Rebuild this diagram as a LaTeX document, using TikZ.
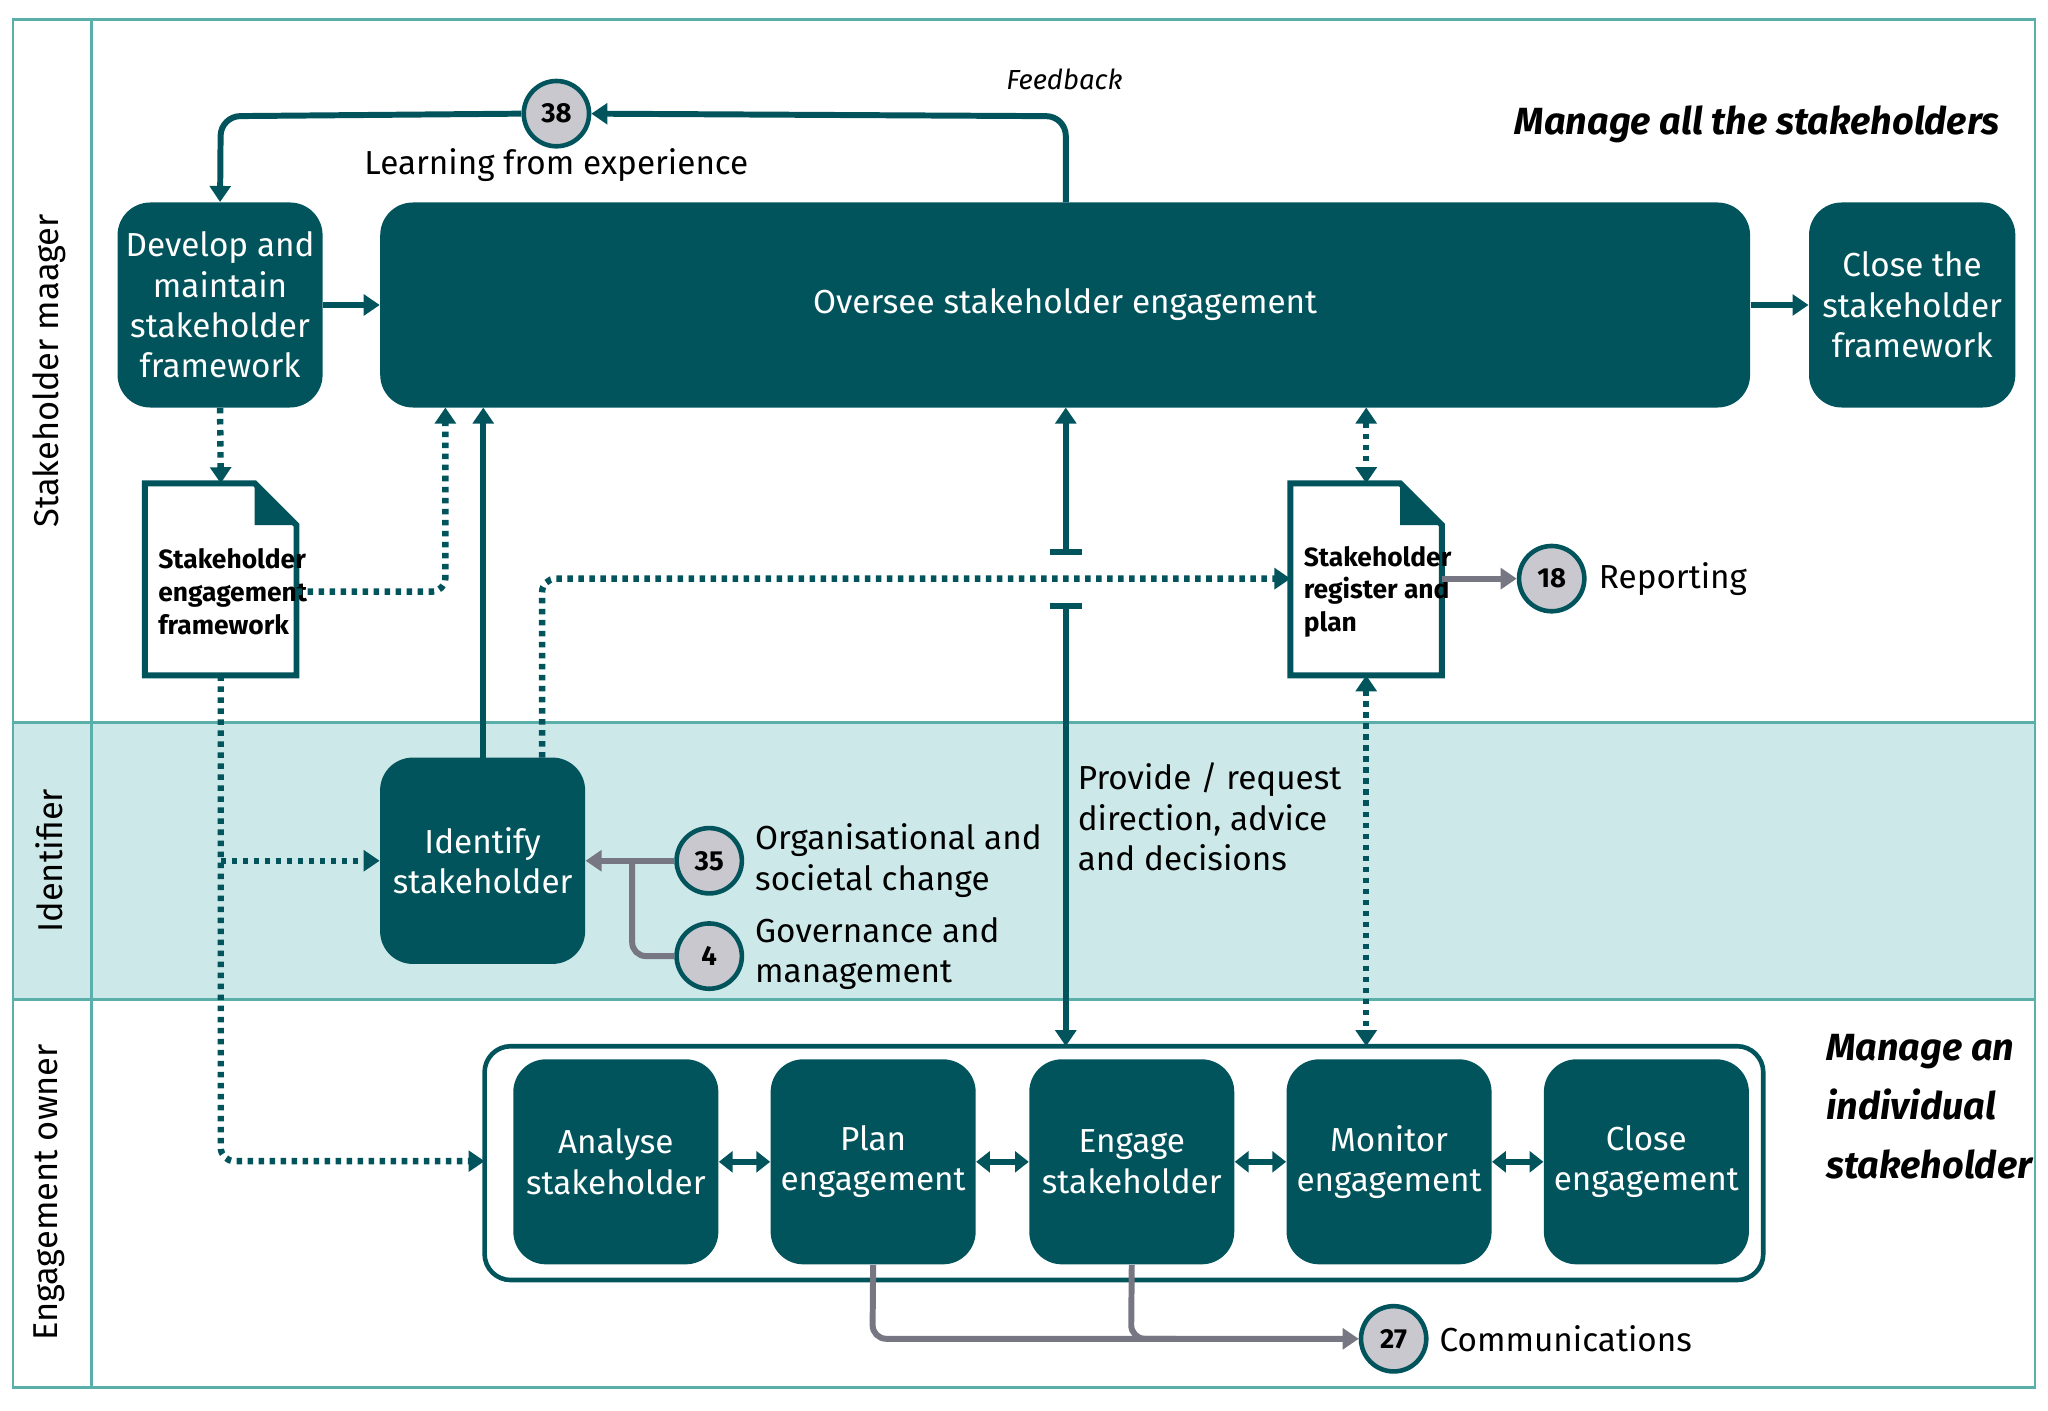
\documentclass[tikz,border=0pt]{standalone}
\usepackage{fontspec}
\setmainfont{Fira Sans}
\usetikzlibrary{arrows.meta}
\definecolor{dk}{HTML}{02545C}
\definecolor{lt}{HTML}{CDE8E8}
\definecolor{fr}{HTML}{5AAFAA}
\definecolor{gr}{HTML}{777784}
\definecolor{cf}{HTML}{C8C8CE}
\begin{document}
\begin{tikzpicture}[x=0.02cm,y=-0.02cm,
 box/.style={draw=none,fill=dk,rounded corners=0.5cm,text=white,align=center,font=\fontsize{14.5}{17.6}\selectfont,inner sep=0},
 sol/.style={draw=dk,line width=2.6pt,-{Triangle[length=7pt,width=9pt]}},
 dot/.style={draw=dk,line width=2.8pt,dash pattern=on 2.4pt off 2.4pt},
 gry/.style={draw=gr,line width=2.6pt,-{Triangle[length=7pt,width=9pt]},rounded corners=6pt},
 circ/.style={circle,draw=dk,line width=2pt,fill=cf,minimum size=1cm,inner sep=0,font=\bfseries\fontsize{12}{14}\selectfont},
 lbl/.style={font=\fontsize{14.5}{17.6}\selectfont,align=left,anchor=west},
 tip/.style={-{Triangle[length=7pt,width=9pt]}},
 doc/.style={font=\bfseries\fontsize{11.5}{14.2}\selectfont,align=left}]
\useasboundingbox (0,0) rectangle (1568,1080);
% lanes
\fill[lt] (10,553) rectangle (1558,765);
\draw[fr,line width=1.2pt] (10,15) rectangle (1558,1062);
\draw[fr,line width=1.2pt] (70,15) -- (70,1062) (10,553) -- (1558,553) (10,765) -- (1558,765);
\node[rotate=90,font=\fontsize{15}{18}\selectfont] (l1) at (38,284) {Stakeholder maager};
\node[rotate=90,font=\fontsize{15}{18}\selectfont] (l2) at (38,659) {Identifier};
\node[rotate=90,font=\fontsize{15}{18}\selectfont] (l3) at (38,913) {Engagement owner};
% boxes
\node[box,minimum width=3.14cm,minimum height=3.14cm] (dev) at (168.5,233.5) {Develop and\\maintain\\stakeholder\\framework};
\node[box,minimum width=20.98cm,minimum height=3.14cm] (ov) at (815.5,233.5) {Oversee stakeholder engagement};
\node[box,minimum width=3.16cm,minimum height=3.14cm] (cl) at (1464,233.5) {Close the\\stakeholder\\framework};
\node[box,minimum width=3.14cm,minimum height=3.16cm] (id) at (369.5,659) {Identify\\stakeholder};
\draw[dk,line width=2pt,rounded corners=0.4cm] (371,801) rectangle (1350,980);
\coordinate (cont) at (371,889);
\node[box,minimum width=3.14cm,minimum height=3.14cm] (an) at (471.5,889.5) {Analyse\\stakeholder};
\node[box,minimum width=3.14cm,minimum height=3.14cm] (pl) at (668.5,889.5) {Plan\\engagement};
\node[box,minimum width=3.14cm,minimum height=3.14cm] (en) at (866.5,889.5) {Engage\\stakeholder};
\node[box,minimum width=3.14cm,minimum height=3.14cm] (mo) at (1063.5,889.5) {Monitor\\engagement};
\node[box,minimum width=3.14cm,minimum height=3.14cm] (ce) at (1260.5,889.5) {Close\\engagement};
% documents
\draw[dk,line width=2.6pt,fill=white] (111,370) -- (195,370) -- (227,402) -- (227,517) -- (111,517) -- cycle;
\fill[dk] (195,370) -- (227,402) -- (195,402) -- cycle;
\node[doc,anchor=west] (sef) at (115,453) {Stakeholder\\engagement\\framework};
\draw[dk,line width=2.6pt,fill=white] (988,370) -- (1072,370) -- (1104,402) -- (1104,517) -- (988,517) -- cycle;
\fill[dk] (1072,370) -- (1104,402) -- (1072,402) -- cycle;
\node[doc,anchor=west] (reg) at (992,453) {Stakeholder\\register and\\plan};
\coordinate (sefT) at (169,370); \coordinate (sefB) at (169,517); \coordinate (sefR) at (227,453);
\coordinate (regT) at (1046,370); \coordinate (regB) at (1046,517); \coordinate (regR) at (1104,443); \coordinate (regL) at (988,443);
% circles
\node[circ] (c38) at (426,87) {38};
\node[circ] (c18) at (1188,443) {18};
\node[circ] (c35) at (543,659) {35};
\node[circ] (c4) at (543,732) {4};
\node[circ] (c27) at (1067,1025) {27};
% texts
\node[font=\itshape\fontsize{12}{14}\selectfont] (fb) at (815,61) {Feedback};
\node[font=\fontsize{14.5}{17}\selectfont] (lfe) at (426,126) {Learning from experience};
\node[font=\bfseries\itshape\fontsize{16.5}{20}\selectfont,anchor=east] (mall) at (1537,95) {Manage all the stakeholders};
\node[font=\bfseries\itshape\fontsize{16.5}{25.5}\selectfont,align=left,anchor=north west] (mind) at (1392,786) {Manage an\\individual\\stakeholder};
\node[lbl] (rep) at (1218,443) {Reporting};
\node[lbl] (t35) at (572,659) {Organisational and\\societal change};
\node[lbl] (t4) at (572,730) {Governance and\\management};
\node[lbl] (t27) at (1096,1025) {Communications};
\node[lbl,anchor=north west] (prd) at (819,578) {Provide / request\\direction, advice\\and decisions};
% connectors
\draw[sol,rounded corners=0.3cm] (816,155) -- (816,89) -- (c38.east);
\draw[sol,rounded corners=0.3cm] (c38.west) -- (169,89) -- (dev.north);
\draw[sol] (dev.east) -- (ov.west);
\draw[sol] (ov.east) -- (cl.west);
\draw[dot,tip] (dev.south) -- (sefT);
\draw[dot,tip,rounded corners=6pt] (sefR) -- (341,453) -- (341,312);
\draw[sol] (370,580) -- (370,312);
\draw[dot,tip,rounded corners=6pt] (415,580) -- (415,443) -- (regL);
\draw[sol,{Triangle[length=7pt,width=9pt]}-{Bar[width=14pt]}] (816,312) -- (816,425);
\draw[sol,{Bar[width=14pt]}-{Triangle[length=7pt,width=9pt]}] (816,462) -- (816,801);
\draw[dot,{Triangle[length=7pt,width=9pt]}-{Triangle[length=7pt,width=9pt]}] (1046,312) -- (regT);
\draw[dot,{Triangle[length=7pt,width=9pt]}-{Triangle[length=7pt,width=9pt]}] (regB) -- (1046,801);
\draw[gry] (regR) -- (c18.west);
\draw[dot,tip,rounded corners=6pt] (sefB) -- (169,889) -- (cont);
\draw[dot,tip] (169,659) -- (id.west);
\draw[gry] (c35.west) -- (id.east);
\draw[gry,-] (c4.west) -- (484,732) -- (484,659);
\foreach \a/\b in {an/pl,pl/en,en/mo,mo/ce}
 \draw[draw=dk,line width=2.6pt,{Triangle[length=6pt,width=9pt]}-{Triangle[length=6pt,width=9pt]}] (\a.east) -- (\b.west);
\draw[gry] (pl.south) -- (668,1025) -- (c27.west);
\draw[gry,-] (en.south) -- (866,1025) -- (900,1025);
\end{tikzpicture}
\end{document}
